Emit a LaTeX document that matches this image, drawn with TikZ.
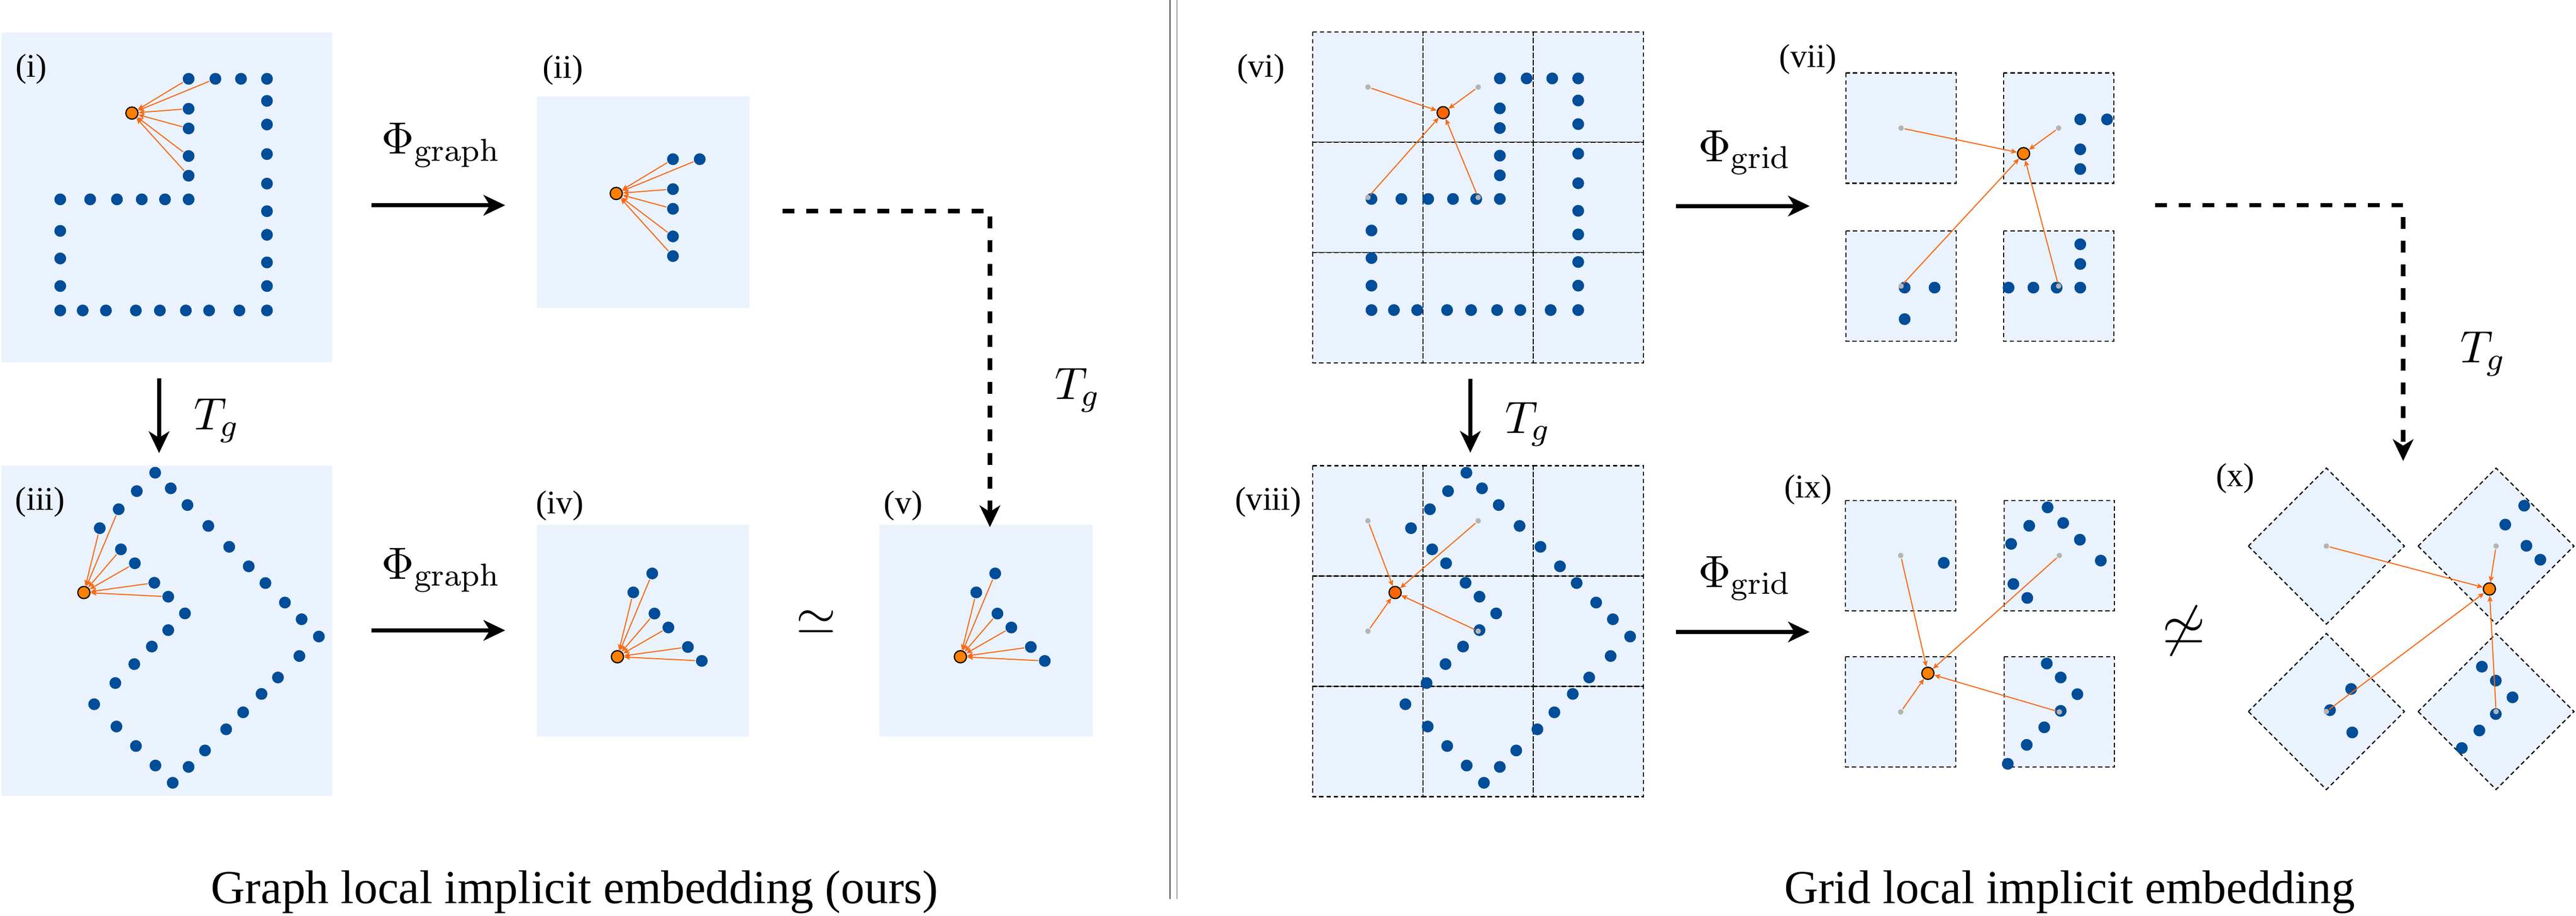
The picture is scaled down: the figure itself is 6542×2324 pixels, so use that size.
\RequirePackage{fix-cm}
\documentclass[tikz,border=0pt]{standalone}
\usepackage[no-math]{fontspec}
\setmainfont{Liberation Serif}
\usetikzlibrary{arrows.meta}
\definecolor{boxfill}{RGB}{234,243,253}
\definecolor{dotblue}{RGB}{0,77,153}
\definecolor{dotor}{RGB}{255,128,0}
\definecolor{dotortwo}{RGB}{255,102,0}
\definecolor{arror}{RGB}{250,105,20}
\definecolor{dotgray}{RGB}{180,180,180}
\def\DX{{0,475,543,608,674,674,674,674,674,674,674,674,674,674,475,475,475,475,475,149,225,293,356,415,149,149,149,149,206,265,341,402,468,527,604}}
\def\DY{{0,118,118,118,118,174,234,309,384,454,514,584,644,706,194,244,314,364,424,424,424,424,424,424,504,574,644,706,706,706,706,706,706,706,706}}
\newcommand{\dotset}[2]{\foreach \k in {#2}{\pgfmathsetmacro\xx{\DX[\k]}\pgfmathsetmacro\yy{\DY[\k]}\node[bdot] (#1-\k) at (\xx,\yy) {};}}
\tikzset{
 bdot/.style={circle,fill=dotblue,inner sep=0pt,minimum size=3pt},
 odot/.style={circle,fill=dotor,draw=black,line width=0.3pt,inner sep=0pt,minimum size=3.1pt},
 odottwo/.style={odot,fill=dotortwo},
 gdot/.style={circle,fill=dotgray,inner sep=0pt,minimum size=1.4pt},
 oarr/.style={draw=arror,line width=0.27pt,-{Stealth[length=1.5pt,width=1.3pt,inset=0.3pt]}},
 cellbox/.style={draw=black,line width=0.3pt,dash pattern=on 1.1pt off 0.75pt},
 thinline/.style={draw=black,line width=0.12pt},
 bigarr/.style={line width=1pt,-{Stealth[length=5.5pt,width=5.2pt,inset=1.6pt]}},
 dasharr/.style={line width=1.1pt,dash pattern=on 3pt off 3pt,-{Stealth[length=5.5pt,width=5.2pt,inset=1.6pt]}},
 lab/.style={inner sep=0pt,anchor=base west,font=\fontsize{8.4}{10}\selectfont},
 mlab/.style={inner sep=0pt,anchor=base west,font=\fontsize{11.5}{13}\selectfont},
 captext/.style={inner sep=0pt,font=\fontsize{12}{14}\selectfont},
 divline/.style={draw=black!75,line width=0.25pt},
}
\begin{document}
\begin{tikzpicture}[x=0.1pt,y=-0.1pt]
\useasboundingbox (0,0) rectangle (6542,2324);

% ---------------- (i)
\fill[boxfill] (4,82) rectangle (844,920);
\begin{scope}[shift={(4,82)}]
 \dotset{A}{1,...,34}
 \node[odot] (A-o) at (331,205) {};
\end{scope}
\foreach \k in {1,2,14,15,16,17} \draw[oarr] (A-\k) -- (A-o);

% ---------------- (ii)
\fill[boxfill] (1363,244) rectangle (1904,783);
\begin{scope}[shift={(1234,286)}]
 \dotset{B}{1,2,14,15,16,17}
 \node[odot] (B-o) at (331,205) {};
\end{scope}
\foreach \k in {1,2,14,15,16,17} \draw[oarr] (B-\k) -- (B-o);

% ---------------- (iii)
\fill[boxfill] (4,1182) rectangle (844,2020);
\begin{scope}[shift={(8,1173)},rotate around={45:(420,420)}]
 \dotset{C}{1,...,34}
 \node[odot] (C-o) at (331,205) {};
\end{scope}
\foreach \k in {1,2,14,15,16,17} \draw[oarr] (C-\k) -- (C-o);

% ---------------- (iv)
\fill[boxfill] (1363,1332) rectangle (1903,1870);
\begin{scope}[shift={(1363,1336)},rotate around={45:(420,420)}]
 \dotset{D}{1,2,14,15,16,17}
 \node[odot] (D-o) at (331,205) {};
\end{scope}
\foreach \k in {1,2,14,15,16,17} \draw[oarr] (D-\k) -- (D-o);

% ---------------- (v)
\fill[boxfill] (2234,1332) rectangle (2775,1870);
\begin{scope}[shift={(2234,1336)},rotate around={45:(420,420)}]
 \dotset{E}{1,2,14,15,16,17}
 \node[odot] (E-o) at (331,205) {};
\end{scope}
\foreach \k in {1,2,14,15,16,17} \draw[oarr] (E-\k) -- (E-o);

% ---------------- (vi)
\fill[boxfill] (3334,81) rectangle (4174,921);
\draw[thinline] (3334,361) -- (4174,361) (3334,641) -- (4174,641);
\foreach \i in {0,1,2}{\foreach \j in {0,1,2}{\draw[cellbox] ({3334+280*\i},{81+280*\j}) rectangle +(280,280);}}
\begin{scope}[shift={(3334,81)}]
 \dotset{F}{1,...,34}
 \node[odottwo] (F-o) at (331,205) {};
\end{scope}
\node[gdot] (F-g1) at (3474,221) {};
\node[gdot] (F-g2) at (3754,221) {};
\node[gdot] (F-g3) at (3474,501) {};
\node[gdot] (F-g4) at (3754,501) {};
\foreach \k in {1,2,3,4} \draw[oarr] (F-g\k) -- (F-o);

% ---------------- (viii)
\fill[boxfill] (3334,1182) rectangle (4174,2022);
\draw[thinline] (3334,1462) -- (4174,1462) (3334,1742) -- (4174,1742);
\foreach \i in {0,1,2}{\foreach \j in {0,1,2}{\draw[cellbox] ({3334+280*\i},{1182+280*\j}) rectangle +(280,280);}}
\begin{scope}[shift={(3338,1173)},rotate around={45:(420,420)}]
 \dotset{G}{1,...,34}
 \node[odottwo] (G-o) at (331,205) {};
\end{scope}
\node[gdot] (G-g1) at (3474,1322) {};
\node[gdot] (G-g2) at (3754,1322) {};
\node[gdot] (G-g3) at (3474,1602) {};
\node[gdot] (G-g4) at (3754,1602) {};
\foreach \k in {1,2,3,4} \draw[oarr] (G-g\k) -- (G-o);

% ---------------- (vii)
\draw[cellbox,fill=boxfill] (4688,185) rectangle +(280,280);
\draw[cellbox,fill=boxfill] (5088,185) rectangle +(280,280);
\draw[cellbox,fill=boxfill] (4688,586) rectangle +(280,280);
\draw[cellbox,fill=boxfill] (5088,586) rectangle +(280,280);
\begin{scope}[shift={(4808,185)}]
 \dotset{H}{1,2,14,15}
 \node[odot] (H-o) at (331,205) {};
\end{scope}
\begin{scope}[shift={(4688,306)}]
 \dotset{H}{19,20,24}
\end{scope}
\begin{scope}[shift={(4808,306)}]
 \dotset{H}{16,17,18,21,22,23}
\end{scope}
\node[gdot] (H-g1) at (4828,325) {};
\node[gdot] (H-g2) at (5228,325) {};
\node[gdot] (H-g3) at (4828,726) {};
\node[gdot] (H-g4) at (5228,726) {};
\foreach \k in {1,2,3,4} \draw[oarr] (H-g\k) -- (H-o);

% ---------------- (ix)
\draw[cellbox,fill=boxfill] (4687,1270) rectangle +(280,280);
\draw[cellbox,fill=boxfill] (5090,1270) rectangle +(280,280);
\draw[cellbox,fill=boxfill] (4687,1667) rectangle +(280,280);
\draw[cellbox,fill=boxfill] (5090,1667) rectangle +(280,280);
\begin{scope}[shift={(4691,1261)},rotate around={45:(420,420)}]
 \dotset{I}{1}
\end{scope}
\begin{scope}[shift={(4814,1261)},rotate around={45:(420,420)}]
 \dotset{I}{2,3,4,5,6,7,14,15}
\end{scope}
\begin{scope}[shift={(4691,1378)},rotate around={45:(420,420)}]
 \node[odot] (I-o) at (331,205) {};
\end{scope}
\begin{scope}[shift={(4814,1378)},rotate around={45:(420,420)}]
 \dotset{I}{16,17,18,20,21,22,23}
\end{scope}
\node[gdot] (I-g1) at (4827,1410) {};
\node[gdot] (I-g2) at (5230,1410) {};
\node[gdot] (I-g3) at (4827,1807) {};
\node[gdot] (I-g4) at (5230,1807) {};
\foreach \k in {1,2,3,4} \draw[oarr] (I-g\k) -- (I-o);

% ---------------- (x)
\begin{scope}[shift={(5768,1246)},rotate around={45:(140,140)}]
 \draw[cellbox,fill=boxfill] (0,0) rectangle (280,280);
 \node[gdot] (J-g1) at (140,140) {};
\end{scope}
\begin{scope}[shift={(5919,1246)},rotate around={45:(420,140)}]
 \draw[cellbox,fill=boxfill] (280,0) rectangle (560,280);
 \dotset{J}{1,2,14,15}
 \node[gdot] (J-g2) at (420,140) {};
 \node[odot] (J-o) at (331,205) {};
\end{scope}
\begin{scope}[shift={(5768,1386)},rotate around={45:(140,420)}]
 \draw[cellbox,fill=boxfill] (0,280) rectangle (280,560);
 \dotset{J}{19,20,24}
 \node[gdot] (J-g3) at (140,420) {};
\end{scope}
\begin{scope}[shift={(5919,1386)},rotate around={45:(420,420)}]
 \draw[cellbox,fill=boxfill] (280,280) rectangle (560,560);
 \dotset{J}{16,17,18,21,22,23}
 \node[gdot] (J-g4) at (420,420) {};
\end{scope}
\foreach \k in {1,2,3,4} \draw[oarr] (J-g\k) -- (J-o);

% ---------------- big arrows
\coordinate (pg1s) at (943,521);  \coordinate (pg1e) at (1283,521);
\coordinate (pg2s) at (943,1600); \coordinate (pg2e) at (1283,1600);
\coordinate (pr1s) at (4256,523); \coordinate (pr1e) at (4596,523);
\coordinate (pr2s) at (4256,1604);\coordinate (pr2e) at (4596,1604);
\coordinate (tg1s) at (404,960);  \coordinate (tg1e) at (404,1150);
\coordinate (tg2s) at (3734,961); \coordinate (tg2e) at (3734,1149);
\coordinate (dg1s) at (1988,536); \coordinate (dg1e) at (2514,1338);
\coordinate (dg2s) at (5473,521); \coordinate (dg2e) at (6103,1170);
\draw[bigarr] (pg1s) -- (pg1e);
\draw[bigarr] (pg2s) -- (pg2e);
\draw[bigarr] (pr1s) -- (pr1e);
\draw[bigarr] (pr2s) -- (pr2e);
\draw[bigarr] (tg1s) -- (tg1e);
\draw[bigarr] (tg2s) -- (tg2e);
\draw[dasharr] (dg1s) -| (dg1e);
\draw[dasharr] (dg2s) -| (dg2e);

\node[mlab] (lpg1) at (967,391) {$\Phi_{\mathrm{graph}}$};
\node[mlab] (lpg2) at (967,1470) {$\Phi_{\mathrm{graph}}$};
\node[mlab] (lpr1) at (4311,410) {$\Phi_{\mathrm{grid}}$};
\node[mlab] (lpr2) at (4311,1491) {$\Phi_{\mathrm{grid}}$};
\node[mlab] (ltg1) at (490,1090) {$T_g$};
\node[mlab] (ltg2) at (3820,1100) {$T_g$};
\node[mlab] (ltg3) at (2677,1013) {$T_g$};
\node[mlab] (ltg4) at (6246,921) {$T_g$};

\node[inner sep=0pt,font=\fontsize{13}{15}\selectfont] (sim) at (2073,1580) {$\simeq$};
\node[inner sep=0pt,font=\fontsize{14}{16}\selectfont] (nsim) at (5547,1601) {$\not\simeq$};

% ---------------- panel labels
\node[lab] (l1) at (38,195) {(i)};
\node[lab] (l2) at (1376,198) {(ii)};
\node[lab] (l3) at (37,1295) {(iii)};
\node[lab] (l4) at (1359,1304) {(iv)};
\node[lab] (l5) at (2243,1304) {(v)};
\node[lab] (l6) at (3140,195) {(vi)};
\node[lab] (l7) at (4517,171) {(vii)};
\node[lab] (l8) at (3135,1295) {(viii)};
\node[lab] (l9) at (4529,1263) {(ix)};
\node[lab] (l10) at (5626,1234) {(x)};

% ---------------- divider and captions
\draw[divline] (2971,0) -- (2971,2282);
\draw[divline] (2989,0) -- (2989,2282);
\node[captext,anchor=base west] (cap1) at (534,2293) {Graph local implicit embedding (ours)};
\node[captext,anchor=base] (cap2) at (5256,2293) {Grid local implicit embedding};
\end{tikzpicture}
\end{document}
